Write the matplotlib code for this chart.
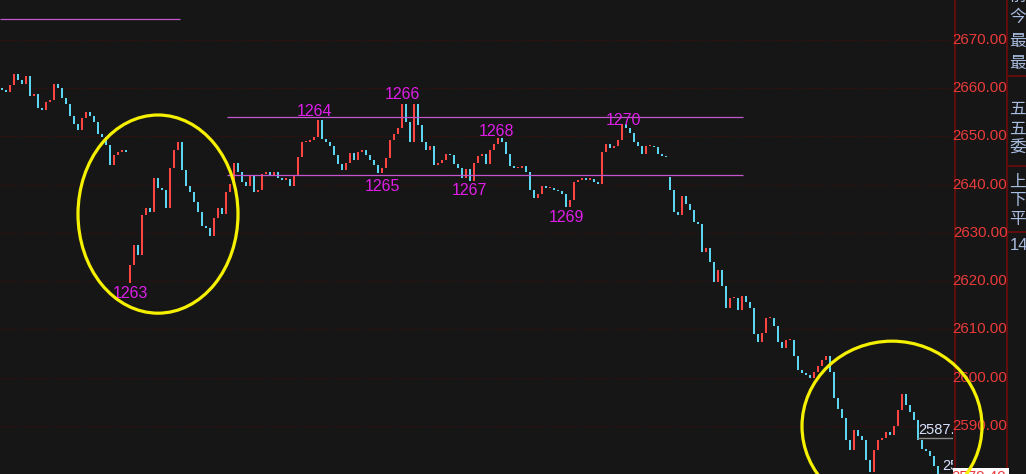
import numpy as np
import matplotlib
matplotlib.use("Agg")
import matplotlib.pyplot as plt
from matplotlib.patches import Ellipse, Rectangle

plt.rcParams['font.family'] = ['Liberation Sans', 'Noto Sans CJK SC', 'DejaVu Sans']

# closes per session (open of each candle = previous close)
open_s1 = 2660.0
closes_s1 = [2659.6, 2659.2, 2660.7, 2662.9, 2661.7, 2660.9, 2662.5, 2658.4, 2658.8, 2655.9,
             2655.5, 2657.1, 2657.6, 2660.9, 2660.0, 2658.0, 2656.7, 2654.2, 2652.6, 2651.3,
             2653.8, 2655.1, 2654.2, 2653.0, 2650.5, 2649.9, 2648.2, 2644.1, 2646.1, 2646.8,
             2647.0, 2646.8]

open_s2 = 2619.6
closes_s2 = [2623.3, 2627.5, 2625.4, 2633.7, 2635.1, 2634.3, 2641.4, 2639.3, 2638.9, 2635.1,
             2643.4, 2647.2, 2648.8, 2643.0, 2639.7, 2638.5, 2636.4, 2634.3, 2631.4, 2631.0,
             2629.3, 2633.1, 2635.1, 2633.9, 2638.5, 2640.1, 2644.5, 2642.6, 2640.5, 2639.7,
             2641.8, 2638.5, 2638.9, 2642.2, 2642.6, 2641.8, 2642.6, 2641.4, 2641.0, 2641.2,
             2639.7, 2642.0, 2645.7, 2648.8, 2648.8, 2649.3, 2649.9, 2653.4, 2649.5, 2648.8,
             2648.0, 2646.1, 2644.3, 2643.0, 2644.5, 2646.6, 2645.1, 2646.8, 2647.2, 2646.1,
             2645.1, 2644.1, 2642.4, 2643.4, 2645.5, 2649.3, 2650.5, 2651.7, 2656.7, 2653.0,
             2648.8, 2656.7, 2652.4, 2648.8, 2647.2, 2648.0, 2644.1, 2644.5, 2645.1, 2646.3,
             2646.1, 2644.3, 2643.4, 2641.4, 2643.2, 2640.7, 2644.5, 2645.9, 2646.3, 2644.3,
             2647.2, 2648.4, 2649.7, 2648.8, 2646.3, 2643.9, 2643.4, 2643.4, 2643.9, 2642.6,
             2638.9, 2637.2, 2638.0, 2639.7, 2639.3, 2639.3, 2638.9, 2638.7, 2638.0, 2635.3,
             2636.8, 2640.5, 2641.0, 2641.4, 2641.0, 2641.2, 2640.5, 2640.1, 2646.8, 2648.4,
             2647.6, 2648.0, 2649.3, 2652.6, 2651.7, 2650.7, 2648.8, 2648.0, 2646.3, 2648.0,
             2648.0, 2647.8, 2646.3, 2645.9, 2645.7]

open_s3 = 2641.6
closes_s3 = [2638.9, 2634.3, 2633.7, 2637.6, 2636.0, 2634.7, 2632.2, 2631.8, 2626.0, 2626.8,
             2623.9, 2619.8, 2622.3, 2619.0, 2614.4, 2616.5, 2616.5, 2614.0, 2616.9, 2615.6,
             2614.4, 2609.0, 2607.3, 2609.2, 2612.3, 2612.3, 2610.7, 2607.3, 2606.1, 2607.8,
             2607.8, 2604.4, 2601.5, 2600.9, 2600.5, 2599.9, 2601.1, 2602.4, 2603.6, 2604.4,
             2601.1, 2595.7, 2593.4, 2591.6, 2587.0, 2584.9, 2589.1, 2587.8, 2587.0, 2582.9,
             2580.4, 2584.9, 2587.0, 2587.4, 2588.7, 2588.0, 2589.9, 2593.2, 2596.5, 2594.3,
             2592.8, 2591.2, 2587.0, 2585.1, 2584.7, 2583.7, 2581.6, 2579.4]

price_ticks = [2590, 2600, 2610, 2620, 2630, 2640, 2650, 2660, 2670]

# pivot labels: text, candle index, price
pivot_names = ['1263', '1264', '1265', '1266', '1267', '1268', '1269', '1270']
pivot_idx = [32, 78.25, 95, 100, 116.75, 123.75, 141, 155.25]
pivot_price = [2617.5, 2655.1, 2639.7, 2658.6, 2638.7, 2651.1, 2633.1, 2653.4]

# horizontal levels: price, start index, end index
level_price = [2654.0, 2642.0, 2674.3]
level_start = [56.25, 56.25, -0.5]
level_end = [185.25, 185.25, 44.5]

side_chars = ['前', '今', '最', '最', '五', '五', '委', '上', '下', '平', '14']
side_y = [-4, 17, 41, 63, 109, 129, 148, 182, 201, 219, 245]

BG = '#161616'
RED = '#ff4444'
CYAN = '#5cd6f0'
AXRED = '#6e0c0c'
GRID = '#4e0a0a'
MAG = '#de1ee8'
LEVEL = '#c456cc'

opens, closes = [], []
for first, cl in [(open_s1, closes_s1), (open_s2, closes_s2), (open_s3, closes_s3)]:
    prev = first
    for c in cl:
        opens.append(prev)
        closes.append(c)
        prev = c
opens = np.array(opens)
closes = np.array(closes)
idx = np.arange(len(closes))

fig = plt.figure(figsize=(10.26, 4.74), dpi=100, facecolor=BG)
W, H = 1026, 474
ax = fig.add_axes([0, 0, 953 / W, 1])
ax2 = fig.add_axes([953 / W, 0, 55 / W, 1], sharey=ax)
ax3 = fig.add_axes([1008 / W, 0, 18 / W, 1])
ax.set_zorder(3)
ax2.set_zorder(1)

for a in (ax, ax2, ax3):
    a.set_facecolor(BG)
    a.set_xticks([])
    a.set_yticks([])
    for s in a.spines.values():
        s.set_visible(False)

ax.set_xlim(-0.5, 237.75)
ax.set_ylim(2580.0, 2678.3)

# grid
for p in price_ticks:
    ax.axhline(p, color=GRID, lw=0.7, ls=(0, (1, 2)), zorder=1)

# candles
up = closes >= opens
lo = np.minimum(opens, closes)
hi = np.maximum(opens, closes)
ax.bar(idx, np.maximum(hi - lo, 0.3), bottom=lo, width=0.7,
       color=np.where(up, RED, CYAN), linewidth=0, zorder=3)

# level lines
for p, s, e in zip(level_price, level_start, level_end):
    ax.hlines(p, s, e, color=LEVEL, lw=0.9, zorder=4)

for name, k, p in zip(pivot_names, pivot_idx, pivot_price):
    ax.text(k, p, name, color=MAG, fontsize=11.5, ha='center', va='center', zorder=5)

# price markers near the right edge
ax.text(229, 2589.1, '2587.4', color='#d8e4ff', fontsize=10.5, ha='left', va='center',
        clip_on=True, zorder=5)
ax.hlines(2587.4, 228.75, 237.75, color='#8a8a8a', lw=1.0, zorder=4)
ax.text(235, 2581.6, '2579.4', color='#d8e4ff', fontsize=10.5, ha='left', va='center',
        clip_on=True, zorder=5)
ax.add_patch(Rectangle((234, 2578.0), 4, 1.9, color='#6a6a6a', zorder=4))
ax.text(222, 2578.3, '2577.4', color='#e8e8e8', fontsize=10.5, ha='left', va='center',
        clip_on=True, zorder=5)

# yellow circles
ax.add_patch(Ellipse((39, 2633.9), 40, 41.1, fill=False, ec='#f5f000', lw=2.3,
                     clip_on=False, zorder=8))
ax.add_patch(Ellipse((222.5, 2589.9), 45, 35.3, fill=False, ec='#f5f000', lw=2.3,
                     clip_on=False, zorder=8))

# price axis
ax2.axvline(0.03, color=AXRED, lw=1.2)
ax2.axvline(0.99, color=AXRED, lw=1.2)
tr = ax2.get_yaxis_transform()
for p in price_ticks:
    ax2.text(0.99, p, f'{p:.2f}', transform=tr, color='#ec3a3a', fontsize=10.8,
             ha='right', va='center')
ax2.text(0.97, 2579.4, '2579.40', transform=tr, color='#ec3a3a', fontsize=10.8,
         ha='right', va='center',
         bbox=dict(boxstyle='square,pad=0.15', fc='white', ec='none'))

# side panel
ax3.set_xlim(0, 18)
ax3.set_ylim(H, 0)
for ch, y in zip(side_chars, side_y):
    ax3.text(1.5, y, ch, color='#a9bde0', fontsize=12, ha='left', va='center')
for y in [76, 166, 232]:
    ax3.axhline(y, color=AXRED, lw=1.2)

fig.savefig('out.png', dpi=100, facecolor=BG)
